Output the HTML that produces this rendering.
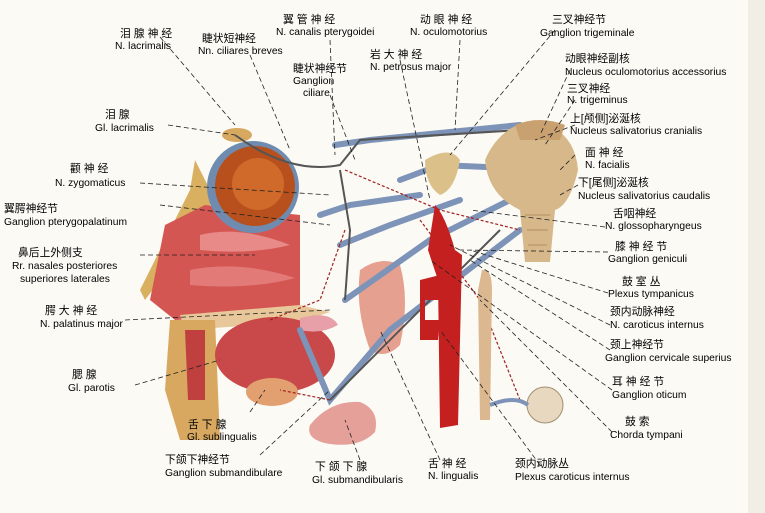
<!DOCTYPE html>
<html><head><meta charset="utf-8"><style>
html,body{margin:0;padding:0;background:#fbfaf5;}
svg{display:block}
text{font-family:"Liberation Sans","Noto Sans CJK SC",sans-serif;font-size:10.3px;fill:#000}
.c{font-size:10.8px}
.l{stroke:#222;stroke-width:0.8;stroke-dasharray:5,3;fill:none}
</style></head><body>
<svg width="765" height="513" viewBox="0 0 765 513">
<rect x="0" y="0" width="765" height="513" fill="#fbfaf5"/>
<rect x="748" y="0" width="17" height="513" fill="#f1eee6"/>
<path d="M195,160 L215,200 L200,215 L160,280 L145,300 L140,290 L170,230 L190,190 Z" fill="#d8b060"/>
<path d="M165,225 L205,205 L300,215 L300,315 L175,320 L150,300 Z" fill="#d45652"/>
<path d="M200,235 Q240,225 290,245 Q250,255 200,250 Z" fill="#e88a88"/>
<path d="M190,270 Q240,260 295,278 Q250,290 190,285 Z" fill="#e27a78"/>
<path d="M180,315 L300,305 L330,312 L300,322 L185,330 Z" fill="#e8c89a"/>
<path d="M170,320 L215,320 L220,440 L180,440 L165,390 Z" fill="#d9a860"/>
<path d="M185,330 L205,330 L205,400 L188,400 Z" fill="#c04040"/>
<ellipse cx="275" cy="355" rx="60" ry="38" fill="#c9484a"/>
<path d="M300,318 Q330,310 338,325 Q320,335 300,330 Z" fill="#e8a0a8"/>
<ellipse cx="272" cy="392" rx="26" ry="14" fill="#e2a070"/>
<path d="M310,425 Q330,400 360,402 Q380,410 375,432 Q360,448 330,444 Q305,440 310,425 Z" fill="#e6a09a"/>
<path d="M360,270 Q380,255 400,265 Q410,300 400,345 Q385,360 370,350 Q355,310 360,270 Z" fill="#e6a090"/>
<circle cx="253" cy="187" r="46" fill="#6f8cb0"/>
<circle cx="255" cy="186" r="40" fill="#b8501e"/>
<circle cx="258" cy="184" r="26" fill="#d06a2a"/>
<ellipse cx="237" cy="135" rx="15" ry="7" fill="#d7a860"/>
<g stroke="#7d93b8" stroke-width="6" fill="none" stroke-linecap="round">
<path d="M335,145 L370,140 L520,125"/>
<path d="M400,180 L440,165 L510,168"/>
<path d="M320,215 L350,205 L420,195"/>
<path d="M340,245 L390,225 L460,200"/>
<path d="M345,300 L430,240 L520,195"/>
<path d="M300,330 L330,400 L390,330 L520,230"/>
</g>
<g stroke="#555" stroke-width="2" fill="none">
<path d="M235,135 Q290,175 340,165 L360,140 L520,130"/>
<path d="M340,170 L350,230 L345,300"/>
<path d="M330,400 L500,230"/>
</g>
<g stroke="#a02020" stroke-width="1.2" stroke-dasharray="3,2" fill="none">
<path d="M345,170 L440,210 L520,230"/>
<path d="M345,230 L320,300 L270,320"/>
<path d="M330,400 L280,390"/>
<path d="M420,220 L480,300 L520,400"/>
</g>
<path d="M425,160 Q450,145 460,160 Q455,190 440,195 Q425,185 425,160 Z" fill="#dcc08a"/>
<path d="M485,160 Q500,125 535,120 Q575,130 578,170 Q570,205 555,210 L550,262 L525,262 L520,210 Q488,195 485,160 Z" fill="#d7b88a"/>
<path d="M515,125 Q540,115 565,125 L560,140 L520,140 Z" fill="#c9a070"/>
<path d="M525,215 L550,215 M527,230 L548,230 M528,245 L547,245" stroke="#b09060" stroke-width="1"/>
<path d="M435,205 Q445,215 455,250 L462,255 L458,425 L440,428 L438,280 L428,250 Z" fill="#c42020"/>
<path d="M420,280 L440,275 L440,300 L425,300 L425,320 L440,320 L438,340 L420,340 Z" fill="#c42020"/>
<path d="M482,270 Q492,268 492,290 L490,420 L480,420 L478,290 Z" fill="#dcb890"/>
<circle cx="545" cy="405" r="18" fill="#e8d8c0" stroke="#a09070"/>
<path d="M490,405 Q515,395 528,405" stroke="#7d93b8" stroke-width="4" fill="none"/>
<g class="l">
<path d="M168,125 L235,135"/>
<path d="M140,183 L330,195"/>
<path d="M160,205 L330,225"/>
<path d="M140,255 L255,255"/>
<path d="M125,320 L330,310"/>
<path d="M135,385 L220,360"/>
<path d="M160,37 L235,125"/>
<path d="M250,55 L290,150"/>
<path d="M330,40 L335,155"/>
<path d="M330,95 L355,160"/>
<path d="M400,60 L430,200"/>
<path d="M460,40 L455,130"/>
<path d="M555,30 L450,155"/>
<path d="M570,70 L540,135"/>
<path d="M575,100 L545,145"/>
<path d="M575,125 L535,140"/>
<path d="M575,155 L560,170"/>
<path d="M578,185 L560,195"/>
<path d="M605,227 L470,210"/>
<path d="M608,252 L460,250"/>
<path d="M608,293 L470,250"/>
<path d="M610,325 L450,245"/>
<path d="M610,350 L470,260"/>
<path d="M612,390 L430,260"/>
<path d="M612,432 L480,300"/>
<path d="M540,465 L440,330"/>
<path d="M440,460 L380,330"/>
<path d="M360,460 L345,420"/>
<path d="M260,455 L330,390"/>
<path d="M250,412 L265,390"/>
</g>
<text class="c" x="120" y="37">泪 腺 神 经</text><text x="115" y="49">N. lacrimalis</text>
<text class="c" x="202" y="42">睫状短神经</text><text x="198" y="54">Nn. ciliares breves</text>
<text class="c" x="283" y="23">翼 管 神 经</text><text x="276" y="35">N. canalis pterygoidei</text>
<text class="c" x="420" y="23">动 眼 神 经</text><text x="410" y="35">N. oculomotorius</text>
<text class="c" x="370" y="58">岩 大 神 经</text><text x="370" y="70">N. petrosus major</text>
<text class="c" x="293" y="72">睫状神经节</text><text x="293" y="84">Ganglion</text><text x="303" y="96">ciliare</text>
<text class="c" x="552" y="23">三叉神经节</text><text x="540" y="36">Ganglion trigeminale</text>
<text class="c" x="565" y="62">动眼神经副核</text><text x="565" y="75">Nucleus oculomotorius accessorius</text>
<text class="c" x="567" y="92">三叉神经</text><text x="567" y="103">N. trigeminus</text>
<text class="c" x="570" y="122">上[颅侧]泌涎核</text><text x="570" y="134">Nucleus salivatorius cranialis</text>
<text class="c" x="585" y="156">面 神 经</text><text x="585" y="168">N. facialis</text>
<text class="c" x="578" y="186">下[尾侧]泌涎核</text><text x="578" y="199">Nucleus salivatorius caudalis</text>
<text class="c" x="613" y="217">舌咽神经</text><text x="605" y="229">N. glossopharyngeus</text>
<text class="c" x="615" y="250">膝 神 经 节</text><text x="608" y="262">Ganglion geniculi</text>
<text class="c" x="622" y="285">鼓 室 丛</text><text x="608" y="297">Plexus tympanicus</text>
<text class="c" x="610" y="315">颈内动脉神经</text><text x="610" y="328">N. caroticus internus</text>
<text class="c" x="610" y="348">颈上神经节</text><text x="605" y="361">Ganglion cervicale superius</text>
<text class="c" x="612" y="385">耳 神 经 节</text><text x="612" y="398">Ganglion oticum</text>
<text class="c" x="625" y="425">鼓 索</text><text x="610" y="438">Chorda tympani</text>
<text class="c" x="105" y="118">泪 腺</text><text x="95" y="131">Gl. lacrimalis</text>
<text class="c" x="70" y="172">颧 神 经</text><text x="55" y="186">N. zygomaticus</text>
<text class="c" x="4" y="212">翼腭神经节</text><text x="4" y="225">Ganglion pterygopalatinum</text>
<text class="c" x="18" y="256">鼻后上外侧支</text><text x="12" y="269">Rr. nasales posteriores</text><text x="20" y="282">superiores laterales</text>
<text class="c" x="45" y="314">腭 大 神 经</text><text x="40" y="327">N. palatinus major</text>
<text class="c" x="72" y="378">腮 腺</text><text x="68" y="391">Gl. parotis</text>
<text class="c" x="188" y="428">舌 下 腺</text><text x="187" y="440">Gl. sublingualis</text>
<text class="c" x="165" y="463">下颌下神经节</text><text x="165" y="476">Ganglion submandibulare</text>
<text class="c" x="315" y="470">下 颌 下 腺</text><text x="312" y="483">Gl. submandibularis</text>
<text class="c" x="428" y="467">舌 神 经</text><text x="428" y="479">N. lingualis</text>
<text class="c" x="515" y="467">颈内动脉丛</text><text x="515" y="480">Plexus caroticus internus</text>
</svg>
</body></html>
